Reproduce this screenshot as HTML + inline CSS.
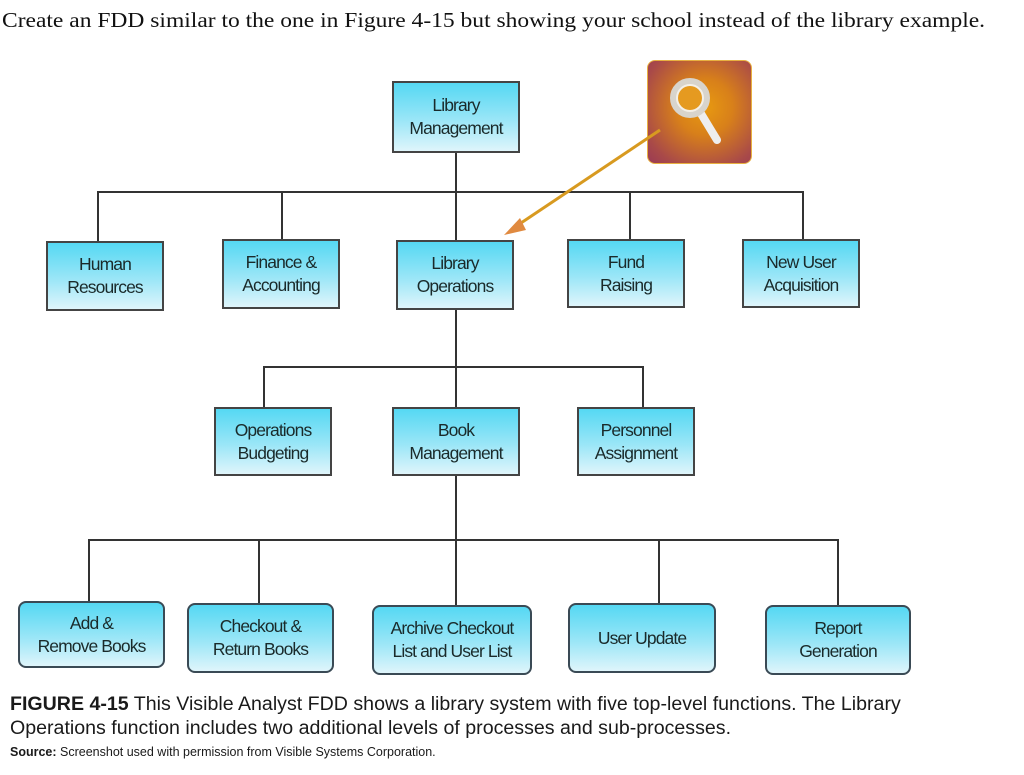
<!DOCTYPE html>
<html><head><meta charset="utf-8"><style>
body{margin:0;width:1024px;height:775px;background:#fff;position:relative;overflow:hidden;font-family:"Liberation Sans",sans-serif}
.t{position:absolute;left:2px;top:8px;font-family:"Liberation Serif",serif;font-size:21px;color:#111;white-space:nowrap;transform:scaleX(1.12);transform-origin:0 0}
.b{position:absolute;box-sizing:border-box;border:2px solid #444;background:linear-gradient(#55d8f3,#9be6f7 55%,#dff5fb);display:flex;align-items:center;justify-content:center;text-align:center;color:#1a2a2a;font-size:17.5px;line-height:23px;letter-spacing:-0.9px}
.r{border-radius:8px;border-color:#3a4a55}
.l{position:absolute;background:#333}
.c{position:absolute;white-space:nowrap;color:#1a1a1a}
</style></head><body>
<div class="t">Create an FDD similar to the one in Figure 4-15 but showing your school instead of the library example.</div>

<div class="l" style="left:455px;top:152px;width:2px;height:90px"></div>
<div class="l" style="left:97px;top:191px;width:707px;height:2px"></div>
<div class="l" style="left:97px;top:191px;width:2px;height:51px"></div>
<div class="l" style="left:281px;top:191px;width:2px;height:49px"></div>
<div class="l" style="left:629px;top:191px;width:2px;height:49px"></div>
<div class="l" style="left:802px;top:191px;width:2px;height:49px"></div>
<div class="l" style="left:455px;top:308px;width:2px;height:100px"></div>
<div class="l" style="left:263px;top:366px;width:381px;height:2px"></div>
<div class="l" style="left:263px;top:366px;width:2px;height:42px"></div>
<div class="l" style="left:642px;top:366px;width:2px;height:42px"></div>
<div class="l" style="left:455px;top:474px;width:2px;height:132px"></div>
<div class="l" style="left:88px;top:539px;width:751px;height:2px"></div>
<div class="l" style="left:88px;top:539px;width:2px;height:63px"></div>
<div class="l" style="left:258px;top:539px;width:2px;height:65px"></div>
<div class="l" style="left:658px;top:539px;width:2px;height:65px"></div>
<div class="l" style="left:837px;top:539px;width:2px;height:67px"></div>

<div class="b" style="left:392px;top:81px;width:128px;height:72px">Library<br>Management</div>
<div class="b" style="left:46px;top:241px;width:118px;height:70px">Human<br>Resources</div>
<div class="b" style="left:222px;top:239px;width:118px;height:70px">Finance &amp;<br>Accounting</div>
<div class="b" style="left:396px;top:240px;width:118px;height:70px">Library<br>Operations</div>
<div class="b" style="left:567px;top:239px;width:118px;height:69px">Fund<br>Raising</div>
<div class="b" style="left:742px;top:239px;width:118px;height:69px">New User<br>Acquisition</div>
<div class="b" style="left:214px;top:407px;width:118px;height:69px">Operations<br>Budgeting</div>
<div class="b" style="left:392px;top:407px;width:128px;height:69px">Book<br>Management</div>
<div class="b" style="left:577px;top:407px;width:118px;height:69px">Personnel<br>Assignment</div>

<div class="b r" style="left:18px;top:601px;width:147px;height:67px">Add &amp;<br>Remove Books</div>
<div class="b r" style="left:187px;top:603px;width:147px;height:70px">Checkout &amp;<br>Return Books</div>
<div class="b r" style="left:372px;top:605px;width:160px;height:70px">Archive Checkout<br>List and User List</div>
<div class="b r" style="left:568px;top:603px;width:148px;height:70px">User Update</div>
<div class="b r" style="left:765px;top:605px;width:146px;height:70px">Report<br>Generation</div>

<div style="position:absolute;left:647px;top:60px;width:103px;height:102px;border-radius:8px;background:radial-gradient(circle at 55% 45%,#e89a10 0%,#d8801a 35%,#a94a48 80%,#9a3a55 100%);border:1px solid #e8b040"></div>
<svg style="position:absolute;left:0;top:0" width="1024" height="775">
<line x1="700" y1="112" x2="717" y2="140" stroke="#eee" stroke-width="8" stroke-linecap="round"/>
<circle cx="690" cy="98" r="17" fill="#f4f0e8" stroke="#d8d4cc" stroke-width="6"/>
<circle cx="690" cy="98" r="12" fill="#e59a20"/>
<line x1="660" y1="130" x2="512" y2="229" stroke="#d89a20" stroke-width="3"/>
<polygon points="504,235 520,218 526,230" fill="#e08a40"/>
</svg>

<div class="c" style="left:10px;top:693px;font-size:19.6px"><b>FIGURE 4-15</b> This Visible Analyst FDD shows a library system with five top-level functions. The Library</div>
<div class="c" style="left:10px;top:717px;font-size:19.6px">Operations function includes two additional levels of processes and sub-processes.</div>
<div class="c" style="left:10px;top:745px;font-size:12.5px"><b>Source:</b> Screenshot used with permission from Visible Systems Corporation.</div>
</body></html>
